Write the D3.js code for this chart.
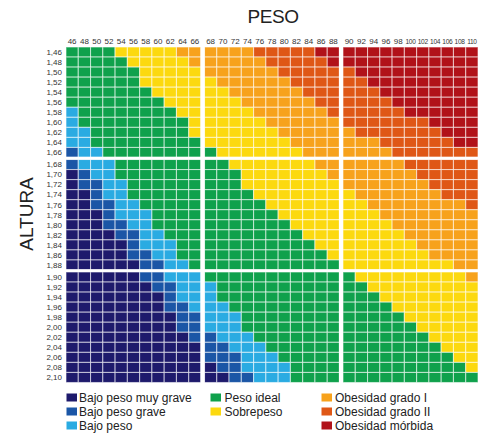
<!DOCTYPE html>
<html>
<head>
<meta charset="utf-8">
<script src="https://cdn.jsdelivr.net/npm/d3@7"></script>
<style>
  body { margin: 0; background: #fff; }
  svg { display: block; font-family: "Liberation Sans", Arial, sans-serif; }
</style>
</head>
<body>
<script>
// peso (kg) por columna, altura (m) por fila
var pesos = [46, 48, 50, 52, 54, 56, 58, 60, 62, 64, 66,
             68, 70, 72, 74, 76, 78, 80, 82, 84, 86, 88,
             90, 92, 94, 96, 98, 100, 102, 104, 106, 108, 110];
var alturas = ["1,46", "1,48", "1,50", "1,52", "1,54", "1,56", "1,58", "1,60", "1,62", "1,64", "1,66",
               "1,68", "1,70", "1,72", "1,74", "1,76", "1,78", "1,80", "1,82", "1,84", "1,86", "1,88",
               "1,90", "1,92", "1,94", "1,96", "1,98", "2,00", "2,02", "2,04", "2,06", "2,08", "2,10"];
var categorias = ["Bajo peso muy grave", "Bajo peso grave", "Bajo peso", "Peso ideal",
                  "Sobrepeso", "Obesidad grado I", "Obesidad grado II", "Obesidad mórbida"];

// por fila: columna donde empieza cada categoria siguiente
var cortes = [
  [0, 0, 0, 4, 9, 15, 20],
  [0, 0, 0, 5, 10, 16, 21],
  [0, 0, 0, 6, 11, 17, 23],
  [0, 0, 0, 6, 12, 18, 24],
  [0, 0, 0, 7, 13, 19, 25],
  [0, 0, 0, 8, 14, 20, 26],
  [0, 0, 1, 9, 15, 21, 27],
  [0, 0, 1, 10, 16, 22, 29],
  [0, 0, 2, 10, 17, 23, 30],
  [0, 0, 2, 11, 18, 25, 31],
  [0, 1, 3, 12, 19, 26, 33],
  [0, 1, 4, 13, 20, 27, 33],
  [1, 2, 4, 14, 21, 28, 33],
  [1, 3, 5, 14, 22, 29, 33],
  [2, 3, 5, 15, 23, 30, 33],
  [2, 4, 6, 16, 24, 32, 33],
  [3, 4, 7, 17, 25, 33, 33],
  [3, 5, 7, 18, 26, 33, 33],
  [4, 6, 8, 19, 27, 33, 33],
  [5, 6, 9, 20, 28, 33, 33],
  [5, 7, 9, 21, 29, 33, 33],
  [6, 8, 10, 22, 31, 33, 33],
  [6, 8, 11, 23, 32, 33, 33],
  [7, 9, 12, 24, 33, 33, 33],
  [8, 9, 12, 25, 33, 33, 33],
  [8, 10, 13, 26, 33, 33, 33],
  [9, 11, 14, 27, 33, 33, 33],
  [9, 11, 14, 28, 33, 33, 33],
  [10, 12, 15, 29, 33, 33, 33],
  [11, 13, 16, 30, 33, 33, 33],
  [11, 14, 17, 31, 33, 33, 33],
  [12, 14, 18, 32, 33, 33, 33],
  [13, 15, 18, 33, 33, 33, 33]
];

var colores = ["#1e1a6c", "#1b56a6", "#2aabe2", "#0fa14c",
               "#fcd90f", "#f7a21c", "#df5716", "#b11219"];

function drawChart() {
  var svg = d3.select("body").append("svg").attr("width", 500).attr("height", 443);

  var gapX = 3.5, gapY = 2;
  var x = d3.scaleBand().domain(pesos).range([66, 478 - 2 * gapX]);
  var y = d3.scaleBand().domain(alturas).range([47, 382.5 - 2 * gapY]);
  var cx = function(w) { return x(w) + gapX * Math.floor(pesos.indexOf(w) / 11); };
  var cy = function(a) { return y(a) + gapY * Math.floor(alturas.indexOf(a) / 11); };

  var celdas = [];
  alturas.forEach(function(a, r) {
    pesos.forEach(function(w, c) {
      var cat = cortes[r].filter(function(k) { return k <= c; }).length;
      celdas.push({ peso: w, altura: a, cat: cat });
    });
  });

  svg.append("g").selectAll("rect").data(celdas).enter().append("rect")
    .attr("x", function(d) { return cx(d.peso); })
    .attr("y", function(d) { return cy(d.altura); })
    .attr("width", x.bandwidth())
    .attr("height", y.bandwidth())
    .attr("fill", function(d) { return colores[d.cat]; })
    .attr("stroke", "rgba(255,255,255,0.55)")
    .attr("stroke-width", 1.1);

  // separadores blancos cada 11 celdas
  var top = cy(alturas[0]), bottom = cy(alturas[32]) + y.bandwidth();
  var left = cx(pesos[0]), right = cx(pesos[32]) + x.bandwidth();
  [11, 22].forEach(function(i) {
    var xs = cx(pesos[i]);
    svg.append("rect").attr("x", xs - gapX - 0.6).attr("y", top - 1)
      .attr("width", gapX + 0.6).attr("height", bottom - top + 2).attr("fill", "#fff");
    var ys = cy(alturas[i]);
    svg.append("rect").attr("x", left - 1).attr("y", ys - gapY - 0.8)
      .attr("width", right - left + 2).attr("height", gapY + 0.8).attr("fill", "#fff");
  });

  // etiquetas de peso
  svg.append("g").selectAll("text").data(pesos).enter().append("text")
    .attr("x", function(d) { return cx(d) + x.bandwidth() / 2; })
    .attr("y", 44)
    .attr("text-anchor", "middle")
    .attr("font-size", function(d) { return d >= 100 ? 6.6 : 8; })
    .attr("letter-spacing", function(d) { return d >= 100 ? -0.35 : 0; })
    .attr("fill", "#333")
    .text(function(d) { return d; });

  // etiquetas de altura
  svg.append("g").selectAll("text").data(alturas).enter().append("text")
    .attr("x", 62)
    .attr("y", function(d) { return cy(d) + y.bandwidth() / 2 + 2.8; })
    .attr("text-anchor", "end")
    .attr("font-size", 8)
    .attr("fill", "#333")
    .text(function(d) { return d; });

  svg.append("text").attr("x", 273).attr("y", 23)
    .attr("text-anchor", "middle").attr("font-size", 19).attr("letter-spacing", -0.4)
    .attr("fill", "#222").text("PESO");

  svg.append("text").attr("transform", "translate(33,214) rotate(-90)")
    .attr("text-anchor", "middle").attr("font-size", 19)
    .attr("fill", "#222").text("ALTURA");

  // leyenda
  var legX = [66.5, 210.5, 321.5], legTx = [79, 224.5, 335];
  var legY = [397.5, 411.5, 425.5];
  var pos = [[0, 0], [0, 1], [0, 2], [1, 0], [1, 1], [2, 0], [2, 1], [2, 2]];
  var ley = svg.append("g").selectAll("g").data(categorias).enter().append("g");
  ley.append("rect")
    .attr("x", function(d, i) { return legX[pos[i][0]]; })
    .attr("y", function(d, i) { return legY[pos[i][1]] - 4; })
    .attr("width", 10.5).attr("height", 8)
    .attr("fill", function(d, i) { return colores[i]; });
  ley.append("text")
    .attr("x", function(d, i) { return legTx[pos[i][0]]; })
    .attr("y", function(d, i) { return legY[pos[i][1]] + 4.3; })
    .attr("font-size", 12)
    .attr("fill", "#222")
    .text(function(d) { return d; });
}

drawChart();
</script>
</body>
</html>
